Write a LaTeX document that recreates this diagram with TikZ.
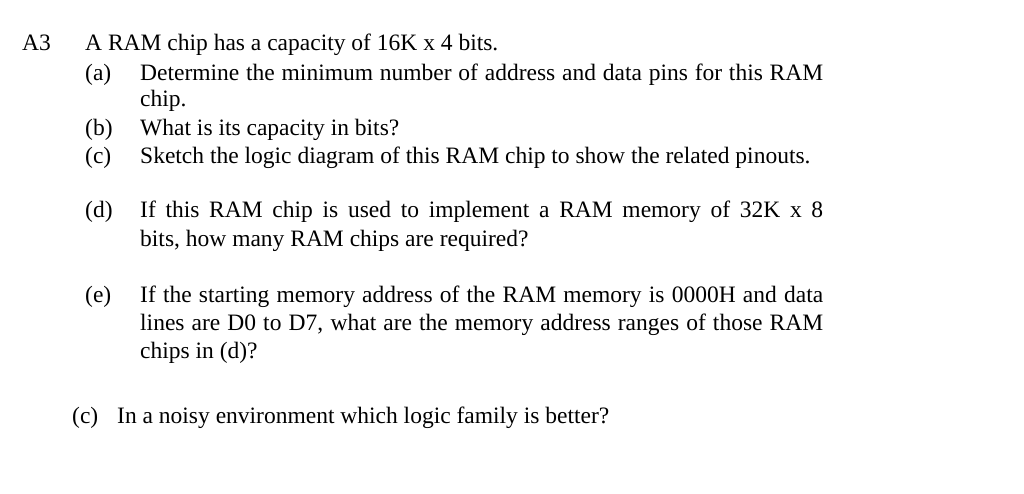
\documentclass[tikz,border=0pt]{standalone}
\usepackage{fontspec}
\setmainfont{Liberation Serif}
\usetikzlibrary{positioning}

\newcommand{\fullline}[1]{\makebox[683pt][s]{#1}}

\begin{document}
\begin{tikzpicture}[x=1pt,y=-1pt,
    txt/.style={anchor=base west,inner sep=0pt,font=\fontsize{23.5}{28}\selectfont}]
    % frame of the page
    \useasboundingbox (0,0) rectangle (1024,494);

    % question heading
    \node[txt] (qnum) at (22,51) {A3};
    \node[txt] (qhead) at (85,51) {A RAM chip has a capacity of 16K x 4 bits.};

    % parts (a) to (e)
    \node[txt] (pa) at (85,81) {(a)};
    \node[txt] (pa1) at (140,81) {\fullline{Determine the minimum number of address and data pins for this RAM}};
    \node[txt] (pa2) at (140,107) {chip.};
    \node[txt] (pb) at (85,136) {(b)};
    \node[txt] (pb1) at (140,136) {What is its capacity in bits?};
    \node[txt] (pc) at (85,164) {(c)};
    \node[txt] (pc1) at (140,164) {Sketch the logic diagram of this RAM chip to show the related pinouts.};

    \node[txt] (pd) at (85,218) {(d)};
    \node[txt] (pd1) at (140,218) {\fullline{If this RAM chip is used to implement a RAM memory of 32K x 8}};
    \node[txt] (pd2) at (140,246) {bits, how many RAM chips are required?};

    \node[txt] (pe) at (85,302) {(e)};
    \node[txt] (pe1) at (140,302) {\fullline{If the starting memory address of the RAM memory is 0000H and data}};
    \node[txt] (pe2) at (140,330) {\fullline{lines are D0 to D7, what are the memory address ranges of those RAM}};
    \node[txt] (pe3) at (140,358) {chips in (d)?};

    % last question
    \node[txt] (qc) at (72,423) {(c)};
    \node[txt] (qc1) at (117,423) {In a noisy environment which logic family is better?};
\end{tikzpicture}
\end{document}
